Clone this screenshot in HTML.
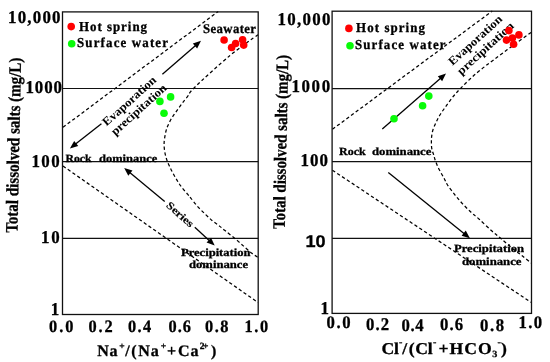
<!DOCTYPE html><html><head><meta charset="utf-8"><title>Gibbs diagram</title><style>html,body{margin:0;padding:0;background:#fff;}svg{display:block;filter:blur(0.3px);}</style></head><body>
<svg width="550" height="362" viewBox="0 0 550 362" text-rendering="geometricPrecision">
<rect width="550" height="362" fill="#fff"/>
<line x1="62.50" y1="88.50" x2="258.20" y2="88.50" stroke="#111" stroke-width="1.15"/>
<line x1="62.50" y1="161.60" x2="258.20" y2="161.60" stroke="#111" stroke-width="1.15"/>
<line x1="62.50" y1="238.30" x2="258.20" y2="238.30" stroke="#111" stroke-width="1.15"/>
<line x1="63.00" y1="127.30" x2="218.20" y2="11.50" stroke="#000" stroke-width="1.25" stroke-dasharray="3.3 2.5"/>
<line x1="63.00" y1="166.00" x2="258.00" y2="302.50" stroke="#000" stroke-width="1.25" stroke-dasharray="3.3 2.5"/>
<path d="M258.00,34.70 C253.33,38.17 240.53,46.75 230.00,55.50 C219.47,64.25 201.95,80.25 194.80,87.20 C187.65,94.15 189.40,94.25 187.10,97.20 C184.80,100.15 182.93,102.33 181.00,104.90 C179.07,107.47 177.17,110.20 175.50,112.60 C173.83,115.00 172.30,117.05 171.00,119.30 C169.70,121.55 168.53,124.15 167.70,126.10 C166.87,128.05 166.50,129.07 166.00,131.00 C165.50,132.93 165.02,135.67 164.70,137.70 C164.38,139.73 164.15,141.27 164.10,143.20 C164.05,145.13 164.17,147.27 164.40,149.30 C164.63,151.33 165.03,153.43 165.50,155.40 C165.97,157.37 166.55,159.33 167.20,161.10 C167.85,162.87 168.48,164.07 169.40,166.00 C170.32,167.93 171.42,170.30 172.70,172.70 C173.98,175.10 175.63,178.02 177.10,180.40 C178.57,182.78 179.75,184.70 181.50,187.00 C183.25,189.30 186.02,192.32 187.60,194.20 C189.18,196.08 189.32,196.23 191.00,198.30 C192.68,200.37 195.30,203.93 197.70,206.60 C200.10,209.27 203.02,212.00 205.40,214.30 C207.78,216.60 209.78,218.55 212.00,220.40 C214.22,222.25 216.53,223.70 218.70,225.40 C220.87,227.10 222.40,228.50 225.00,230.60 C227.60,232.70 231.20,235.42 234.30,238.00 C237.40,240.58 240.60,243.50 243.60,246.10 C246.60,248.70 249.90,251.73 252.30,253.60 C254.70,255.47 257.05,256.68 258.00,257.30" fill="none" stroke="#000" stroke-width="1.25" stroke-dasharray="3.3 2.5"/>
<line x1="101.40" y1="123.80" x2="74.94" y2="144.46" stroke="#000" stroke-width="1.30"/><polygon points="69.90,148.40 74.17,140.88 78.24,146.08" fill="#000"/>
<line x1="162.40" y1="74.30" x2="196.17" y2="44.90" stroke="#000" stroke-width="1.30"/><polygon points="201.00,40.70 197.13,48.44 192.80,43.46" fill="#000"/>
<line x1="164.70" y1="201.40" x2="129.14" y2="172.07" stroke="#000" stroke-width="1.30"/><polygon points="124.20,168.00 132.47,170.54 128.27,175.64" fill="#000"/>
<line x1="194.80" y1="227.30" x2="209.99" y2="241.27" stroke="#000" stroke-width="1.30"/><polygon points="214.70,245.60 206.58,242.61 211.05,237.76" fill="#000"/>
<rect x="62.50" y="11.90" width="195.70" height="302.60" fill="none" stroke="#111" stroke-width="1.30"/>
<line x1="332.10" y1="88.60" x2="531.50" y2="88.60" stroke="#111" stroke-width="1.15"/>
<line x1="332.10" y1="161.60" x2="531.50" y2="161.60" stroke="#111" stroke-width="1.15"/>
<line x1="332.10" y1="238.30" x2="531.50" y2="238.30" stroke="#111" stroke-width="1.15"/>
<line x1="332.40" y1="129.30" x2="492.30" y2="11.00" stroke="#000" stroke-width="1.25" stroke-dasharray="3.3 2.5"/>
<line x1="332.40" y1="170.20" x2="531.00" y2="302.30" stroke="#000" stroke-width="1.25" stroke-dasharray="3.3 2.5"/>
<path d="M531.00,32.40 C527.83,34.70 518.17,41.67 512.00,46.20 C505.83,50.73 499.17,55.72 494.00,59.60 C488.83,63.48 485.00,66.27 481.00,69.50 C477.00,72.73 473.37,75.90 470.00,79.00 C466.63,82.10 463.38,85.43 460.80,88.10 C458.22,90.77 456.47,92.68 454.50,95.00 C452.53,97.32 450.75,99.67 449.00,102.00 C447.25,104.33 445.57,106.75 444.00,109.00 C442.43,111.25 440.93,113.25 439.60,115.50 C438.27,117.75 437.12,120.08 436.00,122.50 C434.88,124.92 433.63,127.58 432.90,130.00 C432.17,132.42 431.85,134.92 431.60,137.00 C431.35,139.08 431.37,140.55 431.40,142.50 C431.43,144.45 431.42,146.63 431.80,148.70 C432.18,150.77 433.08,152.83 433.70,154.90 C434.32,156.97 434.57,158.62 435.50,161.10 C436.43,163.58 437.85,166.90 439.30,169.80 C440.75,172.70 442.83,175.97 444.20,178.50 C445.57,181.03 445.72,182.27 447.50,185.00 C449.28,187.73 452.42,191.80 454.90,194.90 C457.38,198.00 459.70,200.70 462.40,203.60 C465.10,206.50 468.30,209.70 471.10,212.30 C473.90,214.90 475.78,216.12 479.20,219.20 C482.62,222.28 487.88,227.50 491.60,230.80 C495.32,234.10 497.92,235.97 501.50,239.00 C505.08,242.03 509.50,246.08 513.10,249.00 C516.70,251.92 520.12,254.15 523.10,256.50 C526.08,258.85 529.68,262.00 531.00,263.10" fill="none" stroke="#000" stroke-width="1.25" stroke-dasharray="3.3 2.5"/>
<line x1="382.30" y1="129.00" x2="441.17" y2="77.80" stroke="#000" stroke-width="1.30"/><polygon points="446.00,73.60 442.13,81.34 437.80,76.36" fill="#000"/>
<line x1="388.30" y1="172.40" x2="464.92" y2="234.18" stroke="#000" stroke-width="1.30"/><polygon points="469.90,238.20 461.60,235.75 465.74,230.61" fill="#000"/>
<rect x="332.10" y="11.20" width="199.40" height="302.20" fill="none" stroke="#111" stroke-width="1.30"/>
<text transform="translate(8.00 23.20) scale(0.940 1)" font-size="18.00" font-family='"Liberation Serif", "Times New Roman", serif' font-weight="bold" stroke="#000" stroke-width="0.30" textLength="55.92" lengthAdjust="spacing" id="yl0">10,000</text>
<text transform="translate(25.50 93.00) scale(0.940 1)" font-size="18.00" font-family='"Liberation Serif", "Times New Roman", serif' font-weight="bold" stroke="#000" stroke-width="0.30" textLength="38.89" lengthAdjust="spacing" id="yl1">1000</text>
<text transform="translate(31.50 167.30) scale(0.940 1)" font-size="18.00" font-family='"Liberation Serif", "Times New Roman", serif' font-weight="bold" stroke="#000" stroke-width="0.30" textLength="29.95" lengthAdjust="spacing" id="yl2">100</text>
<text transform="translate(41.00 242.50) scale(0.940 1)" font-size="18.00" font-family='"Liberation Serif", "Times New Roman", serif' font-weight="bold" stroke="#000" stroke-width="0.30" textLength="19.93" lengthAdjust="spacing" id="yl3">10</text>
<text transform="translate(50.80 314.50) scale(0.940 1)" font-size="18.00" font-family='"Liberation Serif", "Times New Roman", serif' font-weight="bold" stroke="#000" stroke-width="0.30" id="yl4">1</text>
<text transform="translate(49.00 332.00) scale(0.940 1)" font-size="17.40" font-family='"Liberation Serif", "Times New Roman", serif' font-weight="bold" stroke="#000" stroke-width="0.30" textLength="26.11" lengthAdjust="spacing" id="xl0">0.0</text>
<text transform="translate(88.50 332.00) scale(0.940 1)" font-size="17.40" font-family='"Liberation Serif", "Times New Roman", serif' font-weight="bold" stroke="#000" stroke-width="0.30" textLength="25.60" lengthAdjust="spacing" id="xl1">0.2</text>
<text transform="translate(128.00 332.00) scale(0.940 1)" font-size="17.40" font-family='"Liberation Serif", "Times New Roman", serif' font-weight="bold" stroke="#000" stroke-width="0.30" textLength="24.55" lengthAdjust="spacing" id="xl2">0.4</text>
<text transform="translate(168.50 332.00) scale(0.940 1)" font-size="17.40" font-family='"Liberation Serif", "Times New Roman", serif' font-weight="bold" stroke="#000" stroke-width="0.30" textLength="23.96" lengthAdjust="spacing" id="xl3">0.6</text>
<text transform="translate(205.00 332.00) scale(0.940 1)" font-size="17.40" font-family='"Liberation Serif", "Times New Roman", serif' font-weight="bold" stroke="#000" stroke-width="0.30" textLength="25.05" lengthAdjust="spacing" id="xl4">0.8</text>
<text transform="translate(244.50 332.00) scale(0.940 1)" font-size="17.40" font-family='"Liberation Serif", "Times New Roman", serif' font-weight="bold" stroke="#000" stroke-width="0.30" textLength="25.10" lengthAdjust="spacing" id="xl5">1.0</text>
<text transform="translate(277.50 24.60) scale(0.940 1)" font-size="18.00" font-family='"Liberation Serif", "Times New Roman", serif' font-weight="bold" stroke="#000" stroke-width="0.30" textLength="56.44" lengthAdjust="spacing" id="yr0">10,000</text>
<text transform="translate(291.50 91.80) scale(0.940 1)" font-size="18.00" font-family='"Liberation Serif", "Times New Roman", serif' font-weight="bold" stroke="#000" stroke-width="0.30" textLength="41.10" lengthAdjust="spacing" id="yr1">1000</text>
<text transform="translate(300.50 166.20) scale(0.940 1)" font-size="18.00" font-family='"Liberation Serif", "Times New Roman", serif' font-weight="bold" stroke="#000" stroke-width="0.30" textLength="29.29" lengthAdjust="spacing" id="yr2">100</text>
<text x="305.50" y="247.20" font-size="17.00" font-family='"Liberation Sans", Arial, sans-serif' font-weight="bold" stroke="#000" stroke-width="0.30" textLength="20.15" lengthAdjust="spacingAndGlyphs" id="yr3">10</text>
<text transform="translate(320.40 314.20) scale(0.940 1)" font-size="18.00" font-family='"Liberation Serif", "Times New Roman", serif' font-weight="bold" stroke="#000" stroke-width="0.30" id="yr4">1</text>
<text transform="translate(326.50 328.00) scale(0.940 1)" font-size="17.80" font-family='"Liberation Serif", "Times New Roman", serif' font-weight="bold" stroke="#000" stroke-width="0.30" textLength="25.58" lengthAdjust="spacing" id="xr0">0.0</text>
<text transform="translate(366.00 329.50) scale(0.940 1)" font-size="17.80" font-family='"Liberation Serif", "Times New Roman", serif' font-weight="bold" stroke="#000" stroke-width="0.30" textLength="24.59" lengthAdjust="spacing" id="xr1">0.2</text>
<text transform="translate(401.50 330.50) scale(0.940 1)" font-size="17.80" font-family='"Liberation Serif", "Times New Roman", serif' font-weight="bold" stroke="#000" stroke-width="0.30" textLength="23.40" lengthAdjust="spacing" id="xr2">0.4</text>
<text transform="translate(440.00 329.50) scale(0.940 1)" font-size="17.80" font-family='"Liberation Serif", "Times New Roman", serif' font-weight="bold" stroke="#000" stroke-width="0.30" textLength="24.51" lengthAdjust="spacing" id="xr3">0.6</text>
<text transform="translate(480.00 331.00) scale(0.940 1)" font-size="17.80" font-family='"Liberation Serif", "Times New Roman", serif' font-weight="bold" stroke="#000" stroke-width="0.30" textLength="25.56" lengthAdjust="spacing" id="xr4">0.8</text>
<text transform="translate(518.50 328.00) scale(0.940 1)" font-size="17.80" font-family='"Liberation Serif", "Times New Roman", serif' font-weight="bold" stroke="#000" stroke-width="0.30" textLength="25.16" lengthAdjust="spacing" id="xr5">1.0</text>
<text transform="translate(79.00 30.60) scale(0.950 1)" font-size="13.60" font-family='"Liberation Serif", "Times New Roman", serif' font-weight="bold" stroke="#000" stroke-width="0.30" textLength="71.58" lengthAdjust="spacing" id="lg1">Hot spring</text>
<text transform="translate(77.00 47.20) scale(0.950 1)" font-size="13.60" font-family='"Liberation Serif", "Times New Roman", serif' font-weight="bold" stroke="#000" stroke-width="0.30" textLength="95.80" lengthAdjust="spacing" id="lg2">Surface water</text>
<text transform="translate(356.00 32.40) scale(0.950 1)" font-size="13.60" font-family='"Liberation Serif", "Times New Roman", serif' font-weight="bold" stroke="#000" stroke-width="0.30" textLength="72.65" lengthAdjust="spacing" id="lg3">Hot spring</text>
<text transform="translate(355.00 49.10) scale(0.950 1)" font-size="13.60" font-family='"Liberation Serif", "Times New Roman", serif' font-weight="bold" stroke="#000" stroke-width="0.30" textLength="95.27" lengthAdjust="spacing" id="lg4">Surface water</text>
<text transform="translate(203.00 33.30) scale(0.950 1)" font-size="13.40" font-family='"Liberation Serif", "Times New Roman", serif' font-weight="bold" stroke="#000" stroke-width="0.30" textLength="55.80" lengthAdjust="spacing" id="sea">Seawater</text>
<text x="65.40" y="161.90" font-size="11.00" font-family='"Liberation Serif", "Times New Roman", serif' font-weight="bold" stroke="#000" stroke-width="0.30" textLength="26.21" lengthAdjust="spacingAndGlyphs" id="rk1a">Rock</text>
<text x="99.00" y="161.90" font-size="11.00" font-family='"Liberation Serif", "Times New Roman", serif' font-weight="bold" stroke="#000" stroke-width="0.30" textLength="58.22" lengthAdjust="spacingAndGlyphs" id="rk1b">dominance</text>
<text x="339.00" y="154.80" font-size="11.00" font-family='"Liberation Serif", "Times New Roman", serif' font-weight="bold" stroke="#000" stroke-width="0.30" textLength="26.63" lengthAdjust="spacingAndGlyphs" id="rk2a">Rock</text>
<text x="372.00" y="154.80" font-size="11.00" font-family='"Liberation Serif", "Times New Roman", serif' font-weight="bold" stroke="#000" stroke-width="0.30" textLength="59.41" lengthAdjust="spacingAndGlyphs" id="rk2b">dominance</text>
<text x="181.00" y="255.70" font-size="11.00" font-family='"Liberation Serif", "Times New Roman", serif' font-weight="bold" stroke="#000" stroke-width="0.30" textLength="69.51" lengthAdjust="spacingAndGlyphs" id="pd1">Precipitation</text>
<text x="189.00" y="268.20" font-size="11.00" font-family='"Liberation Serif", "Times New Roman", serif' font-weight="bold" stroke="#000" stroke-width="0.30" textLength="59.01" lengthAdjust="spacingAndGlyphs" id="pd2">dominance</text>
<text x="454.00" y="251.50" font-size="11.00" font-family='"Liberation Serif", "Times New Roman", serif' font-weight="bold" stroke="#000" stroke-width="0.30" textLength="70.02" lengthAdjust="spacingAndGlyphs" id="pd3">Precipitation</text>
<text x="462.00" y="264.50" font-size="11.00" font-family='"Liberation Serif", "Times New Roman", serif' font-weight="bold" stroke="#000" stroke-width="0.30" textLength="59.53" lengthAdjust="spacingAndGlyphs" id="pd4">dominance</text>
<text transform="translate(106.60 126.60) rotate(-42.00)" font-size="11.80" font-family='"Liberation Serif", "Times New Roman", serif' font-weight="bold" textLength="68.00" lengthAdjust="spacingAndGlyphs" id="ev1">Evaporation</text>
<text transform="translate(115.30 135.90) rotate(-42.00)" font-size="11.80" font-family='"Liberation Serif", "Times New Roman", serif' font-weight="bold" textLength="70.00" lengthAdjust="spacingAndGlyphs" id="ev2">precipitation</text>
<text transform="translate(452.40 66.10) rotate(-42.30)" font-size="11.80" font-family='"Liberation Serif", "Times New Roman", serif' font-weight="bold" textLength="68.50" lengthAdjust="spacingAndGlyphs" id="ev3">Evaporation</text>
<text transform="translate(461.30 75.40) rotate(-42.30)" font-size="11.80" font-family='"Liberation Serif", "Times New Roman", serif' font-weight="bold" textLength="72.00" lengthAdjust="spacingAndGlyphs" id="ev4">precipitation</text>
<text transform="translate(165.60 206.30) rotate(41.50)" font-size="10.60" font-family='"Liberation Serif", "Times New Roman", serif' font-weight="bold" stroke="#000" stroke-width="0.15" textLength="32.50" lengthAdjust="spacingAndGlyphs" id="ser">Series</text>
<text transform="translate(17.40 232.80) rotate(-88.80)" font-size="17.50" font-family='"Liberation Serif", "Times New Roman", serif' font-weight="bold" stroke="#000" stroke-width="0.30" textLength="175.10" lengthAdjust="spacingAndGlyphs" id="yt1">Total dissolved salts (mg/L)</text>
<text transform="translate(284.70 229.00) rotate(-88.80)" font-size="17.50" font-family='"Liberation Serif", "Times New Roman", serif' font-weight="bold" stroke="#000" stroke-width="0.30" textLength="174.00" lengthAdjust="spacingAndGlyphs" id="yt2">Total dissolved salts (mg/L)</text>
<text x="0.00" y="355.50" font-size="16.00" font-family='"Liberation Serif", "Times New Roman", serif' font-weight="bold" stroke="#000" stroke-width="0.30" id="xt1"><tspan x="97.18" y="355.50">N</tspan><tspan x="109.61" y="355.50">a</tspan><tspan x="119.34" y="348.60" font-size="9.50">+</tspan><tspan x="125.27" y="355.50">/</tspan><tspan x="131.29" y="355.50">(</tspan><tspan x="138.13" y="355.50">N</tspan><tspan x="150.71" y="355.50">a</tspan><tspan x="160.84" y="348.60" font-size="9.50">+</tspan><tspan x="166.99" y="355.50">+</tspan><tspan x="178.09" y="355.50">C</tspan><tspan x="190.46" y="355.50">a</tspan><tspan x="199.63" y="349.20" font-size="9.50">2</tspan><tspan x="203.09" y="349.20" font-size="9.50">+</tspan><tspan x="210.98" y="355.50">)</tspan></text>
<text x="0.00" y="353.60" transform="matrix(1.0700 0.0000 0.0000 1.0000 -30.8000 0.0000)" font-size="16.50" font-family='"Liberation Serif", "Times New Roman", serif' font-weight="bold" stroke="#000" stroke-width="0.30" id="xt2"><tspan x="385.25" y="353.60">C</tspan><tspan x="397.08" y="353.60">l</tspan><tspan x="401.64" y="345.10" font-size="9.50">-</tspan><tspan x="404.71" y="353.60">/</tspan><tspan x="410.80" y="353.60">(</tspan><tspan x="416.84" y="353.60">C</tspan><tspan x="428.67" y="353.60">l</tspan><tspan x="433.46" y="345.10" font-size="9.50">-</tspan><tspan x="438.71" y="353.60">+</tspan><tspan x="448.95" y="353.60">H</tspan><tspan x="462.77" y="353.60">C</tspan><tspan x="475.64" y="353.60">O</tspan><tspan x="488.73" y="356.90" font-size="9.50">3</tspan><tspan x="493.65" y="345.10" font-size="9.50">-</tspan><tspan x="497.02" y="353.60">)</tspan></text>
<circle cx="71.20" cy="26.60" r="3.80" fill="#ff0000"/>
<circle cx="224.10" cy="40.00" r="3.80" fill="#ff0000"/>
<circle cx="231.60" cy="47.50" r="3.80" fill="#ff0000"/>
<circle cx="235.60" cy="43.50" r="3.80" fill="#ff0000"/>
<circle cx="242.60" cy="39.80" r="3.80" fill="#ff0000"/>
<circle cx="243.70" cy="45.10" r="3.80" fill="#ff0000"/>
<circle cx="71.70" cy="43.80" r="3.80" fill="#08fb08"/>
<circle cx="170.60" cy="96.90" r="3.80" fill="#08fb08"/>
<circle cx="159.90" cy="101.40" r="3.80" fill="#08fb08"/>
<circle cx="164.00" cy="113.20" r="3.80" fill="#08fb08"/>
<circle cx="348.90" cy="28.40" r="3.80" fill="#ff0000"/>
<circle cx="508.90" cy="30.60" r="3.80" fill="#ff0000"/>
<circle cx="518.90" cy="34.90" r="3.80" fill="#ff0000"/>
<circle cx="506.50" cy="40.10" r="3.80" fill="#ff0000"/>
<circle cx="512.40" cy="38.00" r="3.80" fill="#ff0000"/>
<circle cx="513.60" cy="44.30" r="3.80" fill="#ff0000"/>
<circle cx="350.00" cy="45.80" r="3.80" fill="#08fb08"/>
<circle cx="394.00" cy="118.70" r="3.80" fill="#08fb08"/>
<circle cx="422.60" cy="105.80" r="3.80" fill="#08fb08"/>
<circle cx="428.80" cy="96.10" r="3.80" fill="#08fb08"/>
</svg></body></html>
